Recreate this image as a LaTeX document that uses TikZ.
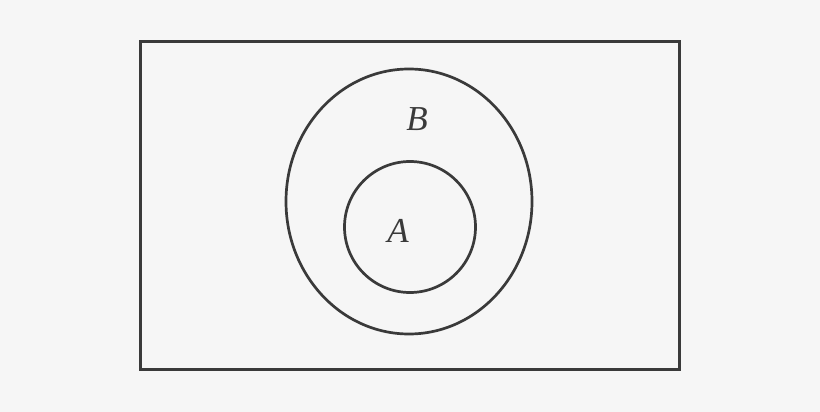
\documentclass[tikz,border=0pt]{standalone}
\usepackage{fontspec}
\setmainfont{Liberation Serif}
\usetikzlibrary{shapes.geometric}
\definecolor{bg}{HTML}{F6F6F6}
\definecolor{ink}{HTML}{3A3A3A}
\begin{document}
\begin{tikzpicture}[x=1pt,y=-1pt,
  shapeline/.style={draw=ink,line width=2.7pt},
  setlabel/.style={text=ink,font=\fontsize{35}{40}\selectfont\itshape,inner sep=0pt}]
\fill[bg] (0,0) rectangle (820,412);
\useasboundingbox (0,0) rectangle (820,412);
\draw[shapeline] (140.5,41.5) rectangle (679.5,369.5);
\node[shapeline,ellipse,minimum width=246pt,minimum height=265pt,inner sep=0pt] (B) at (409,201.5) {};
\node[shapeline,circle,minimum size=131pt,inner sep=0pt] (A) at (410,227) {};
\node[setlabel] (Bl) at (417,119) {B};
\node[setlabel] (Al) at (398,231) {A};
\end{tikzpicture}
\end{document}
